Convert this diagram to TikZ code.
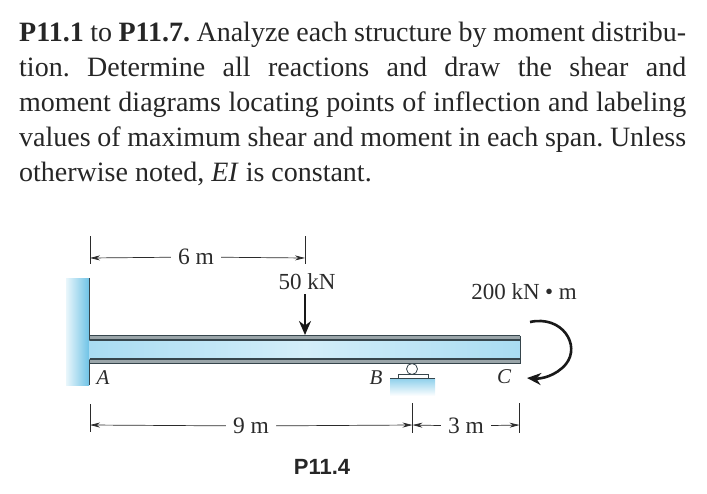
\documentclass[tikz,border=0pt]{standalone}
\usepackage{fontspec}
\setmainfont{Liberation Serif}
\setsansfont{Liberation Sans}
\usepackage{xcolor}
\usetikzlibrary{arrows.meta,positioning,calc}
\definecolor{beamblue}{HTML}{A9DCF2}
\definecolor{beamlight}{HTML}{D3EEF9}
\definecolor{wallblue}{HTML}{6FC3E6}
\definecolor{flange}{HTML}{9AA5A9}
\definecolor{steel}{HTML}{36454C}
\definecolor{inkgrey}{HTML}{2B2B2B}

\begin{document}
\begin{tikzpicture}[x=1pt,y=-1pt,
  dim line/.style={-{Stealth[length=10pt,width=5pt]},line width=.7pt,inkgrey},
  tick line/.style={line width=.7pt,inkgrey},
  dim label/.style={font=\fontsize{23.5}{26}\selectfont,inkgrey,inner sep=7pt},
  load label/.style={font=\fontsize{23}{26}\selectfont,inkgrey,inner sep=0pt},
  point label/.style={font=\fontsize{21}{24}\selectfont\itshape,inkgrey,inner sep=0pt},
  load arrow/.style={-{Stealth[length=14pt,width=12pt]},line width=2.6pt,black!90}]
  \useasboundingbox (0,0) rectangle (707,493);

  % problem statement
  \node[anchor=north west,inner sep=0pt,text width=667pt,align=justify,
    font=\fontsize{28}{35}\selectfont\frenchspacing,black!85] (statement) at (19,22)
    {\textbf{P11.1} to \textbf{P11.7.} Analyze each structure by moment distribu-\linebreak
     tion. Determine all reactions and draw the shear and\linebreak
     moment diagrams locating points of inflection and labeling\linebreak
     values of maximum shear and moment in each span. Unless\linebreak
     otherwise noted, \textit{EI} is constant.};

  % wall and beam
  \shade[left color=wallblue!15,right color=wallblue] (66,278) rectangle (89,385);
  \draw[steel,line width=1.2pt] (89.5,278) -- (89.5,385);
  \shade[left color=beamblue,right color=beamblue,middle color=beamlight] (89.5,340) rectangle (520,359);
  \foreach \y in {335.5,359} {
    \fill[flange] (89.5,\y) rectangle (520,\y+4.5);
    \draw[steel,line width=1.1pt] (89.5,\y) -- (520,\y);
    \draw[steel,line width=1.1pt] (89.5,\y+4.5) -- (520,\y+4.5);
  }
  \draw[steel,line width=.8pt] (520,335.5) -- (520,363.5);

  % roller at B
  \shade[top color=wallblue!80,bottom color=white] (390,378) rectangle (435,396);
  \node[circle,draw=steel,fill=white,line width=.8pt,minimum size=11pt,inner sep=0pt] (roller) at (412,369) {};
  \draw[steel,line width=.8pt,fill=white] (398,378) -- (398,374) -- (428,374) -- (428,378);
  \draw[steel,line width=.8pt] (390,378) -- (435,378);

  % point names
  \node[point label] (A) at (103,378) {A};
  \node[point label] (B) at (376,378) {B};
  \node[point label] (C) at (504,377) {C};

  % 6 m dimension
  \coordinate (t0) at (90,258);
  \coordinate (t6) at (305,258);
  \node[dim label] (six) at (196,257) {6 m};
  \draw[tick line] (90,236) -- (90,264);
  \draw[tick line] (305,236) -- (305,264);
  \draw[dim line] (six) -- (t0);
  \draw[dim line] (six) -- (t6);

  % 9 m and 3 m dimensions
  \coordinate (b0) at (90,425);
  \coordinate (b9) at (412.5,425);
  \coordinate (b12) at (519.5,425);
  \node[dim label] (nine) at (251,426) {9 m};
  \node[dim label] (three) at (466,426) {3 m};
  \draw[tick line] (90,404) -- (90,432);
  \draw[tick line] (412.5,403) -- (412.5,433);
  \draw[tick line] (519.5,403) -- (519.5,433);
  \draw[dim line] (nine) -- (b0);
  \draw[dim line] (nine) -- (b9);
  \draw[dim line] (three) -- (b9);
  \draw[dim line] (three) -- (b12);

  % loads
  \node[load label] (force) at (307,282) {50 kN};
  \coordinate (hit) at (305,335);
  \coordinate (tail) at (305,294);
  \draw[load arrow] (tail) -- (hit);
  \node[load label] (moment) at (524,291.5) {200 kN\hspace{5.5pt}\textbullet\hspace{5.5pt}m};
  \coordinate (ms) at (530,322);
  \coordinate (me) at (527,378);
  \draw[load arrow] (ms) .. controls (562,315) and (581,345) .. (566,364)
    .. controls (556,376) and (541,379) .. (me);

  % figure caption
  \node[font=\sffamily\bfseries\fontsize{22}{24}\selectfont,inner sep=0pt,black!85] (caption) at (322,467) {P11.4};
\end{tikzpicture}
\end{document}
